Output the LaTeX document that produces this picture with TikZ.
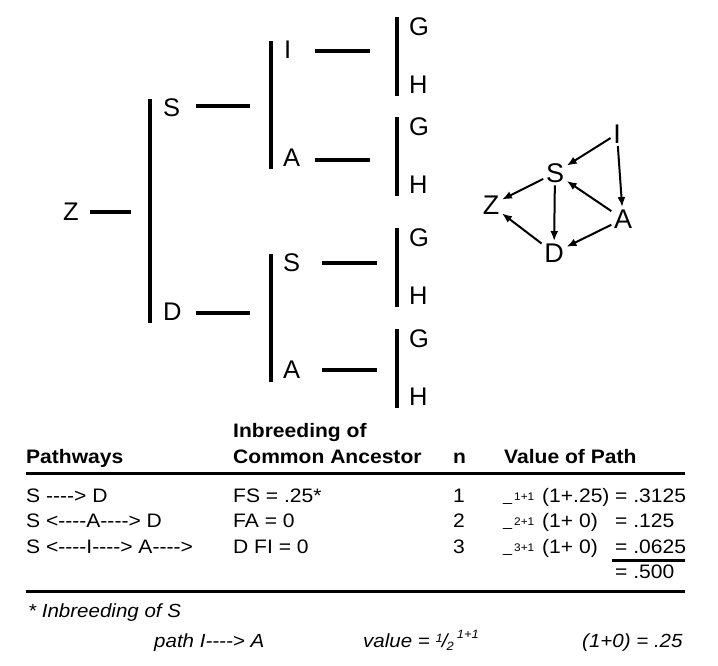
\documentclass[tikz,border=0pt]{standalone}
\usepackage{fontspec}
\setmainfont{Liberation Sans}
\newfontfamily\tabfont[FakeStretch=1.08,Ligatures=ResetAll]{Liberation Sans}
\usetikzlibrary{arrows.meta}

\begin{document}
\begin{tikzpicture}[x=1pt,y=-1pt,
  bar/.style={line width=4pt},
  ltr/.style={anchor=west,inner sep=0pt,font=\fontsize{25.5}{25}\selectfont},
  pnode/.style={inner sep=2.5pt,font=\fontsize{27}{27}\selectfont},
  parrow/.style={line width=2pt,-{Latex[length=10pt,width=8pt]}},
  cell/.style={anchor=base west,inner sep=0pt,font=\tabfont\fontsize{19.5}{20}\selectfont},
  head/.style={cell,font=\tabfont\bfseries\fontsize{19.5}{20}\selectfont},
  note/.style={cell,font=\tabfont\itshape\fontsize{19}{20}\selectfont}]
\useasboundingbox (0,0) rectangle (718,665);

% pedigree of Z
\node[ltr] (Z) at (63,212) {Z};
\node[ltr] (S) at (163,108) {S};
\node[ltr] (D) at (163,312) {D};
\node[ltr] (I) at (284,50) {I};
\node[ltr] (A1) at (283,158) {A};
\node[ltr] (S2) at (283,263) {S};
\node[ltr] (A2) at (283,370) {A};

\draw[bar] (150,99) -- (150,323);
\draw[bar] (271,41) -- (271,169);
\draw[bar] (271,254) -- (271,382);

\draw[bar] (Z.west) ++(27,0) -- ++(41,0);
\draw[bar] (S.west) ++(33,-2) -- ++(54,0);
\draw[bar] (D.west) ++(33,1) -- ++(54,0);
\draw[bar] (I.west) ++(31,1) -- ++(55,0);
\draw[bar] (A1.west) ++(32,2) -- ++(55,0);
\draw[bar] (S2.west) ++(39,0) -- ++(55,0);
\draw[bar] (A2.west) ++(39,0) -- ++(55,0);

\foreach \y/\n in {17/1,117/2,228/3,329/4}{
	\draw[bar] (397,\y) -- (397,\y+79);
	\node[ltr] (G\n) at (409,\y+10) {G};
	\node[ltr] (H\n) at (409,\y+68) {H};
}

% path diagram
\node[pnode] (nI) at (617,134) {I};
\node[pnode] (nS) at (555,173) {S};
\node[pnode] (nZ) at (491,205) {Z};
\node[pnode] (nA) at (623,219) {A};
\node[pnode] (nD) at (554,253) {D};
\foreach \a/\b in {nI/nS,nI/nA,nS/nZ,nS/nD,nA/nS,nA/nD,nD/nZ}{
	\draw[parrow] (\a) -- (\b);
}

% table
\node[head] (h0) at (26,463) {Pathways};
\node[head] (h1) at (233,437) {Inbreeding of};
\node[head] (h2) at (233,463) {Common Ancestor};
\node[head] (h3) at (453,463) {n};
\node[head] (h4) at (504,463) {Value of Path};
\draw[line width=3pt] (26,473) -- (685,473);

\foreach \y/\pth/\fc/\n/\ex/\pr/\val [count=\i] in
  {502/{S ----> D}/{FS = .25*}/1/{1+1}/{(1+.25)}/{= .3125},
   527/{S <----A----> D}/{FA = 0}/2/{2+1}/{(1+ 0)}/{= .125},
   553/{S <----I----> A---->}/{D FI = 0}/3/{3+1}/{(1+ 0)}/{= .0625}}{
	\node[cell] (p\i) at (26,\y) {\pth};
	\node[cell] (f\i) at (233,\y) {\fc};
	\node[cell] (n\i) at (453,\y) {\n};
	\node[cell,font=\tabfont\fontsize{15}{15}\selectfont] (u\i) at (503,\y-1) {\_};
	\node[cell,font=\tabfont\fontsize{11}{11}\selectfont] (x\i) at (514,\y-2) {\ex};
	\node[cell] (q\i) at (542,\y) {\pr};
	\node[cell] (v\i) at (615,\y) {\val};
}
\draw[line width=3pt] (612,560) -- (685,560);
\node[cell] (tot) at (615,578) {= .500};

% footnote
\draw[line width=3pt] (26,591) -- (685,591);
\node[note] (fn) at (28,617) {* Inbreeding of S};
\node[note] (fp) at (154,647) {path I----> A};
\node[note] (fv) at (363,647) {value = \raisebox{5pt}{\fontsize{12}{12}\selectfont 1}\kern-1pt/\kern-1pt\raisebox{-3pt}{\fontsize{12}{12}\selectfont 2}\,\raisebox{9pt}{\fontsize{12}{12}\selectfont 1+1}};
\node[note] (fr) at (582,647) {(1+0) = .25};
\end{tikzpicture}
\end{document}
